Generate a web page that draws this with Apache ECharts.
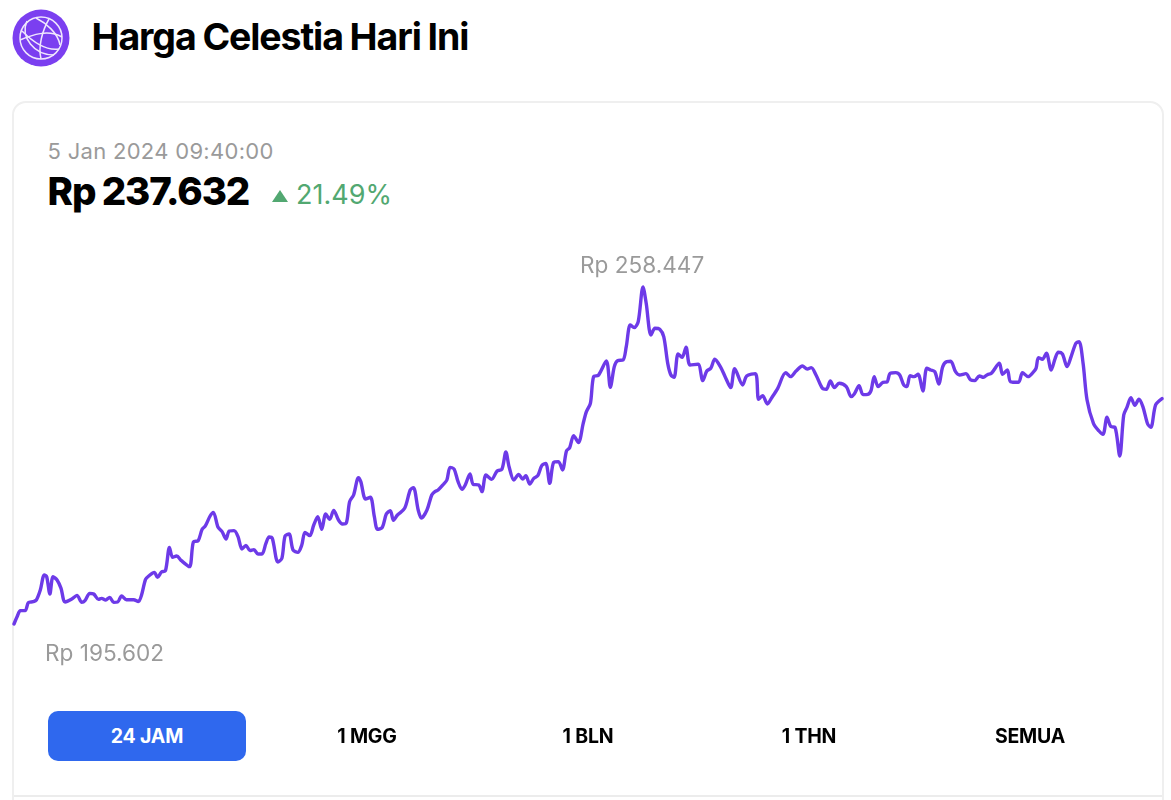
<!DOCTYPE html>
<html lang="id">
<head>
<meta charset="utf-8">
<title>Harga Celestia Hari Ini</title>
<script src="https://cdn.jsdelivr.net/npm/echarts@6/dist/echarts.min.js"></script>
<style>
    html, body { margin: 0; padding: 0; background: #fff; }
    body { width: 1171px; height: 800px; position: relative; overflow: hidden; font-family: Inter, sans-serif; }
    #chart { position: absolute; left: 0; top: 0; width: 1171px; height: 800px; }
    .abs { position: absolute; white-space: nowrap; }
    #card { position: absolute; left: 12px; top: 101px; width: 1148px; height: 720px; border: 2px solid #efefef; border-radius: 14px; box-sizing: content-box; }
    #footline { position: absolute; left: 14px; top: 795px; width: 1148px; height: 2px; background: #ececec; }
    #heading { left: 91.5px; top: 14px; font-size: 37.5px; line-height: 46px; font-weight: 700; color: #000; letter-spacing: -1.1px; word-spacing: -1px; }
    #stamp { left: 47.5px; top: 137px; font-size: 22px; line-height: 28px; color: #9a9a9a; letter-spacing: 0.3px; }
    #price { left: 47.5px; top: 168px; font-size: 38.5px; line-height: 46px; font-weight: 800; color: #000; letter-spacing: -1.1px; word-spacing: -1px; }
    #change { left: 296px; top: 178px; font-size: 27px; line-height: 34px; color: #52a871; }
    #arrow { left: 272px; top: 190px; width: 0; height: 0; border-left: 8.5px solid transparent; border-right: 8.5px solid transparent; border-bottom: 12px solid #52a871; }
    .range { position: absolute; top: 711px; height: 50px; line-height: 50px; width: 198px; text-align: center; font-size: 19.5px; font-weight: 700; color: #000; letter-spacing: -0.2px; }
    .range.on { background: #2f68ee; color: #fff; border-radius: 10px; }
</style>
</head>
<body>
<div id="card"></div>
<div id="footline"></div>
<svg class="abs" style="left:12px;top:9px" width="58" height="58" viewBox="0 0 58 58">
    <circle cx="29" cy="29" r="28.5" fill="#7b3ff0"/>
    <g fill="none" stroke="#efe7fd" stroke-width="1.5">
        <circle cx="29" cy="29" r="21"/>
        <path d="M15 12 C8 28 22 46 42 46"/>
        <path d="M8 31 C20 26 36 20 50 28"/>
        <path d="M37 10 C30 22 26 38 29 50"/>
        <path d="M10 22 C20 32 34 42 47 40"/>
        <path d="M24 9 C34 14 46 24 48 36"/>
    </g>
</svg>
<div id="heading" class="abs">Harga Celestia Hari Ini</div>
<div id="stamp" class="abs">5 Jan 2024 09:40:00</div>
<div id="price" class="abs">Rp 237.632</div>
<div id="arrow" class="abs"></div>
<div id="change" class="abs">21.49%</div>
<div id="chart"></div>
<div class="range on" style="left:48px">24 JAM</div>
<div class="range" style="left:268px">1 MGG</div>
<div class="range" style="left:489px">1 BLN</div>
<div class="range" style="left:710px">1 THN</div>
<div class="range" style="left:931px">SEMUA</div>
<script>
// menit sejak awal jendela 24 jam
const minutes = [
    0, 4, 8, 14, 18, 24, 28, 33, 38, 41, 45, 49, 54, 59, 64, 72, 79, 85, 89, 95,
    100, 106, 110, 115, 120, 125, 130, 135, 141, 150, 156, 160, 165, 169, 176, 180, 185, 190, 195, 199,
    204, 210, 220, 225, 231, 236, 240, 246, 250, 256, 261, 266, 270, 276, 281, 286, 291, 296, 301, 306,
    311, 316, 320, 324, 331, 336, 340, 345, 350, 356, 361, 365, 371, 376, 381, 386, 391, 396, 401, 407,
    412, 417, 421, 426, 432, 435, 441, 447, 452, 456, 462, 467, 472, 476, 481,
    490, 497, 501, 507, 511, 518, 524, 528, 532, 539, 543, 547, 552, 557, 562, 566, 572, 576, 583, 587,
    592, 599, 606, 612, 617, 621, 627, 633, 638, 642, 647, 652, 657, 662, 667, 672, 677, 683, 688, 693,
    697, 702, 708, 714, 718, 723, 727, 733, 743, 748, 753, 757, 764, 768, 773, 778, 783, 789, 793, 799,
    804, 810, 815, 820, 824, 828, 833, 838, 843, 848, 858, 864, 869, 874, 879, 886, 892, 899, 904, 914,
    919, 930, 934, 939, 945, 950, 958, 968, 974, 981, 989, 995, 1000, 1006, 1014, 1019, 1024, 1029, 1035, 1044,
    1050, 1054, 1060, 1065, 1071, 1075, 1079, 1084, 1090, 1095, 1099, 1106, 1111, 1116, 1120, 1124, 1129, 1134, 1140, 1145,
    1150, 1155, 1160, 1165, 1170, 1175, 1181, 1186, 1194, 1200, 1205, 1211, 1216, 1221, 1226, 1236, 1240, 1246, 1250, 1260,
    1265, 1272, 1278, 1282, 1285, 1290, 1295, 1301, 1306, 1310, 1315, 1321, 1326, 1332, 1336, 1341, 1346, 1354, 1361, 1366,
    1371, 1376, 1381, 1387, 1392, 1396, 1401, 1406, 1411, 1416, 1422, 1426, 1432, 1440
];

// harga dalam rupiah
const prices = [
    195602, 197000, 198087, 198087, 199579, 199766, 200076, 201942, 204740, 204428, 201196, 204428, 203807, 202252, 199703, 200201, 200947, 199641, 199952, 201320,
    201196, 200201, 200387, 200076, 200573, 199641, 199703, 200822, 200138, 200138, 199766, 201009, 203930, 204552, 205236, 204303, 205298, 205547, 209899, 208035,
    208283, 207413, 206293, 210893, 211142, 213256, 213878, 215743, 216427, 213630, 212821, 211454, 212946, 213008, 211889, 209589, 210273, 209278, 209464, 208656,
    208656, 210645, 211826, 211579, 207164, 207848, 212013, 212386, 209402, 208967, 210335, 212697, 212075, 214065, 215619, 213256, 216116, 215122, 216800, 214997,
    214252, 214500, 218417, 219660, 222893, 222147, 218914, 219225, 215619, 213256, 213630, 216116, 216738, 214935, 215930,
    217173, 220591, 221026, 216861, 215369, 216861, 219658, 220280, 220591, 221710, 222456, 224819, 224508, 222145, 220715, 221523, 223575, 221648, 221523, 220280,
    223388, 222580, 224134, 224445, 227678, 224942, 222456, 223512, 222643, 223265, 221710, 222767, 223265, 225130, 225565, 221834, 225752, 225876, 224321, 227864,
    228486, 230725, 229419, 233025, 235201, 236755, 241729, 241977, 244650, 239739, 243594, 244713, 244837, 247324, 251365, 250867, 251987, 258447, 255406, 249500,
    250743, 250557, 249189, 244215, 242039, 241604, 245956, 245335, 247200, 243905, 244029, 240983, 242785, 243283, 244961, 243594, 241729, 239677, 243220, 240175,
    241853, 242288, 237501, 238185, 236631, 237688, 239553, 242475, 241729, 242786, 243718, 243159, 243408, 242040, 239553, 239367, 240921, 239677, 240485, 239864,
    237999, 238496, 240051, 238372, 238434, 239118, 241729, 239864, 240672, 240734, 242351, 242475, 242040, 240175, 239864, 241916, 241729, 242164, 239056, 243283,
    242972, 242662, 240361, 243594, 244527, 244589, 242662, 242040, 242289, 241107, 240983, 241854, 241605, 242102, 242351, 244216, 242164, 242973, 240797, 240672,
    242475, 241729, 242475, 243283, 245273, 244962, 246081, 242973, 245149, 246268, 245957, 243594, 245459, 247946, 248257, 244216, 237377, 233025, 231595, 230973,
    234144, 232404, 232279, 226932, 234580, 236010, 237812, 236382, 237502, 236134, 232901, 232279, 236445, 237632
];

const highLabel = 'Rp 258.447';
const lowLabel = 'Rp 195.602';

function initPriceChart() {
    const chart = echarts.init(document.getElementById('chart'), null, { renderer: 'canvas' });

    chart.setOption({
        animation: false,
        grid: { left: 14, right: 9, top: 287, bottom: 176 },
        xAxis: { type: 'value', min: 0, max: 1440, show: false },
        yAxis: { type: 'value', min: 195602, max: 258447, show: false },
        tooltip: { show: false },
        series: [
            {
                type: 'line',
                data: minutes.map((m, i) => [m, prices[i]]),
                showSymbol: false,
                smooth: 0.3,
                clip: false,
                lineStyle: { color: '#6d3ae8', width: 3.4, cap: 'round', join: 'round' }
            }
        ],
        graphic: [
            {
                type: 'text', left: 580, top: 255,
                style: { text: highLabel, fill: '#9a9a9a', font: '400 22.6px Inter, sans-serif' }
            },
            {
                type: 'text', left: 45, top: 643,
                style: { text: lowLabel, fill: '#9a9a9a', font: '400 22.6px Inter, sans-serif' }
            }
        ]
    });
}

document.addEventListener('DOMContentLoaded', initPriceChart);
</script>
</body>
</html>
